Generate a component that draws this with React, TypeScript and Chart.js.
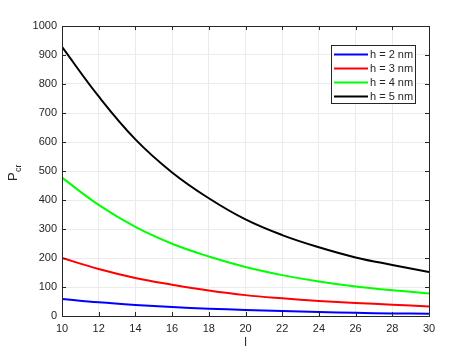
import { useEffect, useRef } from "react";
import { Chart, registerables } from "chart.js";

Chart.register(...registerables);

const lengths = [10, 12, 14, 16, 18, 20, 22, 24, 26, 28, 30];
const h2 = [59, 47, 38, 31, 25, 21, 17, 14, 11, 9, 8];
const h3 = [200, 162, 131, 108, 88, 72, 61, 52, 45, 39, 33];
const h4 = [477, 383, 307, 249, 205, 169, 141, 119, 102, 89, 78];
const h5 = [928, 757, 609, 495, 406, 333, 279, 237, 202, 176, 152];
const seriesLabels = ["h = 2 nm", "h = 3 nm", "h = 4 nm", "h = 5 nm"];
const seriesColors = ["#0000ff", "#ff0000", "#00ff00", "#000000"];
const seriesValues = [h2, h3, h4, h5];

const FONT = "'Liberation Sans', Arial, Helvetica, sans-serif";
const AXIS_COLOR = "#262626";

export default function App() {
  const ref = useRef<HTMLCanvasElement>(null);

  useEffect(() => {
    const canvas = ref.current;
    if (!canvas) return;

    const boxPlugin = {
      id: "matlabBox",
      afterDraw(chart: any) {
        const ctx = chart.ctx;
        const { left, right, top, bottom } = chart.chartArea;
        const xs = chart.scales.x;
        const ys = chart.scales.y;
        ctx.save();
        ctx.strokeStyle = AXIS_COLOR;
        ctx.lineWidth = 1;
        // box
        ctx.strokeRect(Math.round(left) + 0.5, Math.round(top) + 0.5, Math.round(right - left), Math.round(bottom - top));
        // inward ticks
        const tl = 4;
        ctx.beginPath();
        xs.ticks.forEach((t: any) => {
          const px = Math.round(xs.getPixelForValue(t.value)) + 0.5;
          ctx.moveTo(px, bottom);
          ctx.lineTo(px, bottom - tl);
          ctx.moveTo(px, top);
          ctx.lineTo(px, top + tl);
        });
        ys.ticks.forEach((t: any) => {
          const py = Math.round(ys.getPixelForValue(t.value)) + 0.5;
          ctx.moveTo(left, py);
          ctx.lineTo(left + tl, py);
          ctx.moveTo(right, py);
          ctx.lineTo(right - tl, py);
        });
        ctx.stroke();

        // axis titles
        ctx.fillStyle = AXIS_COLOR;
        ctx.font = `12px ${FONT}`;
        ctx.textAlign = "center";
        ctx.textBaseline = "middle";
        ctx.fillText("l", (left + right) / 2, 343);

        ctx.save();
        ctx.translate(17, (top + bottom) / 2 + 2);
        ctx.rotate(-Math.PI / 2);
        ctx.textAlign = "left";
        ctx.textBaseline = "alphabetic";
        ctx.font = `13px ${FONT}`;
        const pw = ctx.measureText("P").width;
        ctx.font = `9px ${FONT}`;
        const sw = ctx.measureText("cr").width;
        const start = -(pw + sw) / 2;
        ctx.font = `13px ${FONT}`;
        ctx.fillText("P", start, 0);
        ctx.font = `9px ${FONT}`;
        ctx.fillText("cr", start + pw + 0.5, 4);
        ctx.restore();

        // legend
        const lx = 331, ly = 45, lw = 84, lh = 58;
        ctx.fillStyle = "#ffffff";
        ctx.fillRect(lx, ly, lw, lh);
        ctx.strokeStyle = AXIS_COLOR;
        ctx.lineWidth = 1;
        ctx.strokeRect(lx + 0.5, ly + 0.5, lw, lh);
        ctx.font = `11px ${FONT}`;
        ctx.textAlign = "left";
        ctx.textBaseline = "middle";
        chart.data.datasets.forEach((ds: any, i: number) => {
          const cy = ly + 9.5 + i * 14;
          ctx.strokeStyle = ds.borderColor;
          ctx.lineWidth = 2;
          ctx.beginPath();
          ctx.moveTo(lx + 3, cy);
          ctx.lineTo(lx + 37, cy);
          ctx.stroke();
          ctx.fillStyle = AXIS_COLOR;
          ctx.fillText(ds.label, lx + 39, cy);
        });
        ctx.restore();
      },
    };

    const chart = new Chart(canvas, {
      type: "line",
      data: {
        datasets: seriesValues.map((vals, i) => ({
          label: seriesLabels[i],
          data: lengths.map((x, j) => ({ x, y: vals[j] })),
          borderColor: seriesColors[i],
          backgroundColor: seriesColors[i],
          borderWidth: 2,
          pointRadius: 0,
          fill: false,
          tension: 0.4,
        })),
      },
      options: {
        responsive: false,
        animation: false,
        layout: { padding: { left: 0, top: 26, right: 45, bottom: 0 } },
        plugins: {
          legend: { display: false },
          tooltip: { enabled: false },
        },
        scales: {
          x: {
            type: "linear",
            min: 10,
            max: 30,
            afterFit: (s: any) => {
              s.height = 39;
            },
            ticks: {
              stepSize: 2,
              padding: 6,
              color: AXIS_COLOR,
              font: { family: FONT, size: 11 },
              maxRotation: 0,
              callback: (v: any) => String(v),
            },
            grid: { color: "#ebebeb", drawTicks: false, lineWidth: 1 },
            border: { display: false },
          },
          y: {
            type: "linear",
            min: 0,
            max: 1000,
            afterFit: (s: any) => {
              s.width = 62;
            },
            ticks: {
              stepSize: 100,
              padding: 5,
              color: AXIS_COLOR,
              font: { family: FONT, size: 11 },
              callback: (v: any) => String(v),
            },
            grid: { color: "#ebebeb", drawTicks: false, lineWidth: 1 },
            border: { display: false },
          },
        },
      },
      plugins: [boxPlugin],
    });

    return () => chart.destroy();
  }, []);

  return (
    <div style={{ position: "absolute", left: 0, top: 0, width: 474, height: 355, background: "#ffffff" }}>
      <canvas ref={ref} width={474} height={355} style={{ display: "block" }} />
    </div>
  );
}
